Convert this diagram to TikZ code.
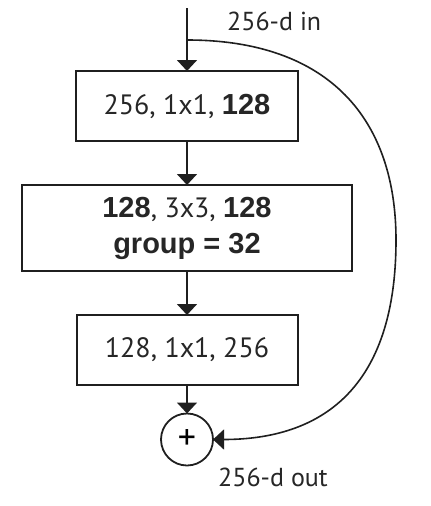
\documentclass[tikz,border=0pt]{standalone}
\usepackage{fontspec}
\setmainfont{PT Sans}
\newfontfamily\arialfont{Liberation Sans}
\usetikzlibrary{arrows.meta}
\newcommand{\bnum}[1]{{\arialfont\bfseries\fontsize{29}{36}\selectfont #1}}
\tikzset{
  block/.style={draw=black!88, line width=2pt, inner sep=0pt, outer sep=0pt, font=\fontsize{28}{36}\selectfont, align=center, text=black!85},
  sumnode/.style={draw=black!88, line width=1.8pt, circle, inner sep=0pt, outer sep=0pt, minimum size=52pt},
  conn/.style={draw=black!88, line width=1.8pt, -{Triangle[width=20pt,length=11pt]}},
  lbl/.style={font=\fontsize{26}{30}\selectfont, text=black!85, inner sep=0pt, anchor=west}
}
\begin{document}
\begin{tikzpicture}[x=1pt,y=-1pt]
\useasboundingbox (0,0) rectangle (431,506);
\coordinate (top) at (187,8);
\coordinate (split) at (187,40);
\coordinate (far) at (396,240);
\node[block, minimum width=222pt, minimum height=70pt] (b1) at (187,106) {256, 1x1, \bnum{128}};
\node[block, minimum width=330pt, minimum height=86pt] (b2) at (187,228) {\bnum{128}, 3x3, \bnum{128}\\ \bnum{group = 32}};
\node[block, minimum width=221pt, minimum height=70pt] (b3) at (187,350) {128, 1x1, 256};
\node[sumnode] (sum) at (187,439.5) {\fontsize{36}{36}\selectfont +};
\node[lbl] (in) at (227,21) {256-d in};
\node[lbl] (out) at (218,477) {256-d out};
\draw[conn] (top) -- (b1);
\draw[conn] (b1) -- (b2);
\draw[conn] (b2) -- (b3);
\draw[conn] (b3) -- (sum);
\draw[conn, line width=1.6pt] (split) .. controls (330,40) and (396,120) .. (far) .. controls (396,390) and (320,439.5) .. (sum.east);
\end{tikzpicture}
\end{document}
